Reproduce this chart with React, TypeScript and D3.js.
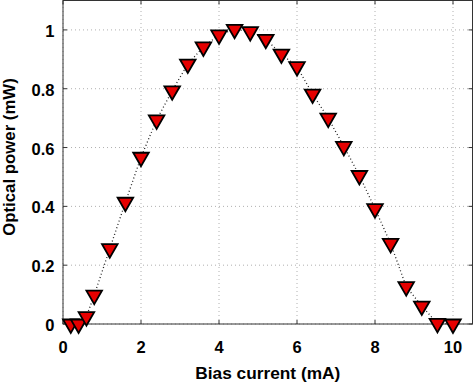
import React from "react";
import * as d3 from "d3";

const biasCurrent = [0.2, 0.4, 0.6, 0.8, 1.2, 1.6, 2.0, 2.4, 2.8, 3.2, 3.6, 4.0, 4.4, 4.8, 5.2, 5.6, 6.0, 6.4, 6.8, 7.2, 7.6, 8.0, 8.4, 8.8, 9.2, 9.6, 10.0];
const opticalPower = [0.0, 0.0, 0.025, 0.098, 0.256, 0.414, 0.567, 0.694, 0.793, 0.884, 0.942, 0.983, 1.002, 0.994, 0.968, 0.918, 0.875, 0.782, 0.70, 0.604, 0.505, 0.392, 0.274, 0.127, 0.061, 0.002, 0.0];
const xTicks = [0, 2, 4, 6, 8, 10];
const yTicks = [0, 0.2, 0.4, 0.6, 0.8, 1];
const yTickLabels = ["0", "0.2", "0.4", "0.6", "0.8", "1"];

const W = 474, H = 383;
const L = 63, R = 472.5, T = 0.5, B = 324;

export default function App() {
  const x = d3.scaleLinear().domain([0, 10.5]).range([L, R]);
  const y = d3.scaleLinear().domain([0, 1.1]).range([B, T]);
  const line = d3.line<number>().x((_, i) => x(biasCurrent[i])).y((d) => y(d));
  const tri = d3.symbol().type(d3.symbolTriangle).size(105)();
  const font = "'Liberation Sans', Arial, Helvetica, sans-serif";
  return (
    <svg width={W} height={H} style={{ position: "absolute", left: 0, top: 0, background: "#fff" }}>
      <rect x={0} y={0} width={W} height={H} fill="#fff" />
      {xTicks.map((t) => (
        <line key={"gx" + t} x1={x(t)} x2={x(t)} y1={B} y2={T} stroke="#b0b0b0" strokeWidth={1} strokeDasharray="1,3" />
      ))}
      {yTicks.map((t) => (
        <line key={"gy" + t} x1={L} x2={R} y1={y(t)} y2={y(t)} stroke="#b0b0b0" strokeWidth={1} strokeDasharray="1,3" />
      ))}
      <rect x={L} y={T} width={R - L} height={B - T} fill="none" stroke="#333" strokeWidth={1} />
      {xTicks.map((t) => (
        <g key={"tx" + t}>
          <line x1={x(t)} x2={x(t)} y1={B} y2={B - 4} stroke="#333" />
          <line x1={x(t)} x2={x(t)} y1={T} y2={T + 4} stroke="#333" />
          <text x={x(t)} y={352.5} textAnchor="middle" fontFamily={font} fontWeight="bold" fontSize={16.5} fill="#000">{t}</text>
        </g>
      ))}
      {yTicks.map((t, i) => (
        <g key={"ty" + t}>
          <line x1={L} x2={L + 4} y1={y(t)} y2={y(t)} stroke="#333" />
          <line x1={R} x2={R - 4} y1={y(t)} y2={y(t)} stroke="#333" />
          <text x={54.5} y={y(t) + 7} textAnchor="end" fontFamily={font} fontWeight="bold" fontSize={16.5} fill="#000">{yTickLabels[i]}</text>
        </g>
      ))}
      <path d={line(opticalPower) || ""} fill="none" stroke="#222" strokeWidth={1.3} strokeDasharray="1,2.5" />
      {opticalPower.map((v, i) => (
        <path key={"m" + i} d={tri || ""} transform={`translate(${x(biasCurrent[i])},${y(v)}) rotate(180)`} fill="#e60000" stroke="#000" strokeWidth={1.8} strokeLinejoin="miter" />
      ))}
      <text x={(L + R) / 2} y={379} textAnchor="middle" fontFamily={font} fontWeight="bold" fontSize={17.3} fill="#000">Bias current (mA)</text>
      <text transform={`translate(15,${157}) rotate(-90)`} textAnchor="middle" fontFamily={font} fontWeight="bold" fontSize={16.8} fill="#000">Optical power (mW)</text>
    </svg>
  );
}
